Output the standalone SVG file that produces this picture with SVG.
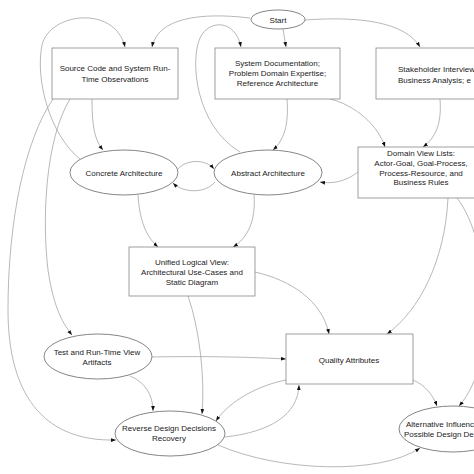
<svg xmlns="http://www.w3.org/2000/svg" width="474" height="474" viewBox="0 0 474 474">
<defs>
<marker id="a" viewBox="0 0 8 6" refX="8" refY="3" markerWidth="5" markerHeight="4" orient="auto" markerUnits="userSpaceOnUse"><path d="M0,0 L8,3 L0,6 z" fill="#111"/></marker>
<style>
.n rect,.n ellipse{fill:#fff;stroke:#888;stroke-width:0.8}
.n ellipse{stroke:#666}
.n text{font-family:"Liberation Sans",Arial,sans-serif;font-size:8px;fill:#1a1a1a;text-anchor:middle}
.n text.s{text-anchor:start}
.e path{fill:none;stroke:#9a9a9a;stroke-width:0.7;marker-end:url(#a)}
</style>
</defs>
<rect width="474" height="474" fill="#fff"/>
<g class="e" id="connectors">
<path d="M250,18 C200,12 158,18 152,47"/>
<path d="M283,29 L286,47"/>
<path d="M305,20 C360,16 405,22 420,47"/>
<path d="M80,159 C50,135 35,80 42,45 C50,12 115,5 125,47"/>
<path d="M240,152 C195,125 190,60 200,38 C208,20 235,18 241,47"/>
<path d="M92,99 C92,128 95,140 103,150"/>
<path d="M287,99 C289,125 284,140 273,150"/>
<path d="M330,99 C355,105 378,125 385,147"/>
<path d="M440,99 C442,125 435,138 423,147"/>
<path d="M358,172 C345,182 332,184 320,182"/>
<path d="M178,169 C185,160 205,158 214,169"/>
<path d="M215,182 C205,194 183,193 173,183"/>
<path d="M138,195 C140,225 148,238 158,247"/>
<path d="M254,195 C256,220 248,238 233,247"/>
<path d="M255,272 C290,280 322,300 329,334"/>
<path d="M188,296 C200,330 205,380 202,414"/>
<path d="M448,198 C445,260 420,310 387,334"/>
<path d="M152,357 C200,356 250,357 286,359"/>
<path d="M130,376 C145,382 153,395 153,411"/>
<path d="M53,99 C25,140 8,220 8,310 C8,390 40,442 116,440"/>
<path d="M70,99 C45,140 42,220 48,270 C54,310 64,325 72,335"/>
<path d="M286,380 C260,385 230,400 216,421"/>
<path d="M225,437 C270,432 298,415 299,385"/>
<path d="M218,445 C280,472 380,475 420,448"/>
<path d="M413,380 C425,385 433,395 437,406"/>
<path d="M457,198 C490,240 500,360 459,406"/>
</g>
<g class="n" id="start"><ellipse cx="278" cy="19.5" rx="27" ry="9.5"/><text x="278" y="23">Start</text></g>
<g class="n" id="source"><rect x="52" y="48" width="126" height="51"/><text x="115" y="71">Source Code and System Run-</text><text x="115" y="81.5">Time Observations</text></g>
<g class="n" id="sysdoc"><rect x="215" y="48" width="125" height="51"/><text x="277.5" y="66">System Documentation;</text><text x="277.5" y="76">Problem Domain Expertise;</text><text x="277.5" y="86">Reference Architecture</text></g>
<g class="n" id="stakeholder"><rect x="376" y="48" width="110" height="51"/><text class="s" x="398" y="72">Stakeholder Interview</text><text class="s" x="398" y="82.5">Business  Analysis; e</text></g>
<g class="n" id="domain"><rect x="358" y="147" width="126" height="51"/><text x="421" y="156">Domain View Lists:</text><text x="421" y="166">Actor-Goal, Goal-Process,</text><text x="421" y="175.5">Process-Resource, and</text><text x="421" y="185">Business Rules</text></g>
<g class="n" id="concrete"><ellipse cx="124" cy="172.5" rx="54" ry="22.5"/><text x="124" y="175.5">Concrete Architecture</text></g>
<g class="n" id="abstract"><ellipse cx="268" cy="172.5" rx="54" ry="22.5"/><text x="268" y="175.5">Abstract Architecture</text></g>
<g class="n" id="unified"><rect x="129" y="247" width="126" height="49"/><text x="192" y="265">Unified Logical View:</text><text x="192" y="275">Architectural Use-Cases and</text><text x="192" y="284.5">Static Diagram</text></g>
<g class="n" id="test"><ellipse cx="98" cy="356.5" rx="54" ry="22.5"/><text x="97" y="355">Test and Run-Time View</text><text x="97" y="364.5">Artifacts</text></g>
<g class="n" id="reverse"><ellipse cx="170" cy="433.5" rx="55" ry="22.5"/><text x="169" y="431">Reverse Design Decisions</text><text x="169" y="440.5">Recovery</text></g>
<g class="n" id="quality"><rect x="286" y="334" width="127" height="50"/><text x="349" y="363">Quality Attributes</text></g>
<g class="n" id="alternative"><ellipse cx="453" cy="429" rx="54" ry="23"/><text class="s" x="406" y="427">Alternative Influenc</text><text class="s" x="404" y="436.5">Possible Design De</text></g>
</svg>
